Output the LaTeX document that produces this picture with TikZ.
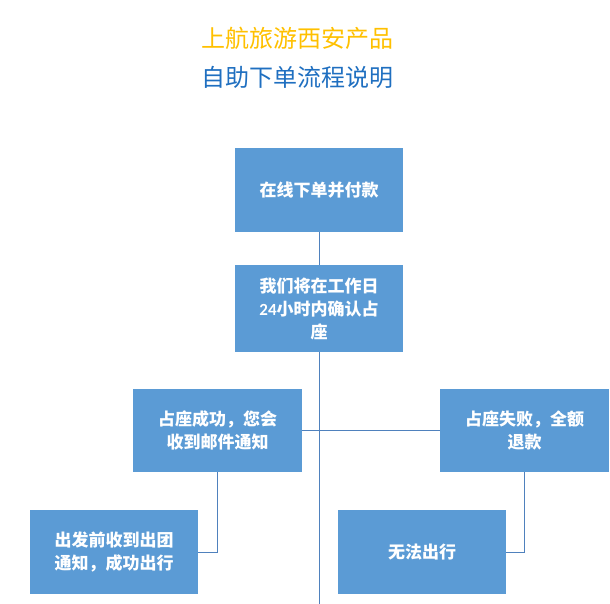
\documentclass[tikz,border=0pt]{standalone}
\usepackage{fontspec}
\newfontfamily\cjk{Noto Sans CJK SC}
\newfontfamily\latn{Carlito}
\definecolor{boxc}{HTML}{5B9BD5}
\definecolor{linec}{HTML}{4F81BD}
\definecolor{ttlo}{HTML}{FFC000}
\definecolor{ttlb}{HTML}{1F6FC0}
\begin{document}
\begin{tikzpicture}[x=1pt,y=-1pt,
  box/.style={fill=boxc,draw=none,text=white,align=center,font=\cjk\bfseries\fontsize{17}{23}\selectfont,inner sep=0pt},
  con/.style={draw=linec,line width=1pt}]
\useasboundingbox (0,0) rectangle (610,604);
\node[font=\cjk\fontsize{24}{28}\selectfont,text=ttlo] (t1) at (297,38) {上航旅游西安产品};
\node[font=\cjk\fontsize{24}{28}\selectfont,text=ttlb] (t2) at (297,77) {自助下单流程说明};
\node[box,minimum width=168,minimum height=84] (b1) at (319,190) {在线下单并付款};
\node[box,minimum width=168,minimum height=87,text width=160] (b2) at (319,308.5) {我们将在工作日\\{\latn\bfseries 24}小时内确认占\\座};
\node[box,minimum width=169,minimum height=83] (b3) at (217.5,430.5) {占座成功，您会\\收到邮件通知};
\node[box,minimum width=169,minimum height=83] (b4) at (524.5,430.5) {占座失败，全额\\退款};
\node[box,minimum width=168,minimum height=84] (b5) at (114,552) {出发前收到出团\\通知，成功出行};
\node[box,minimum width=168,minimum height=84] (b6) at (422,552) {无法出行};
\coordinate (bot) at (319,604);
\draw[con] (b1.south) -- (b2.north);
\draw[con] (b2.south) -- (bot);
\draw[con] (b3.east) -- (b4.west);
\draw[con] (b3.south) |- (b5.east);
\draw[con] (b4.south) |- (b6.east);
\end{tikzpicture}
\end{document}
